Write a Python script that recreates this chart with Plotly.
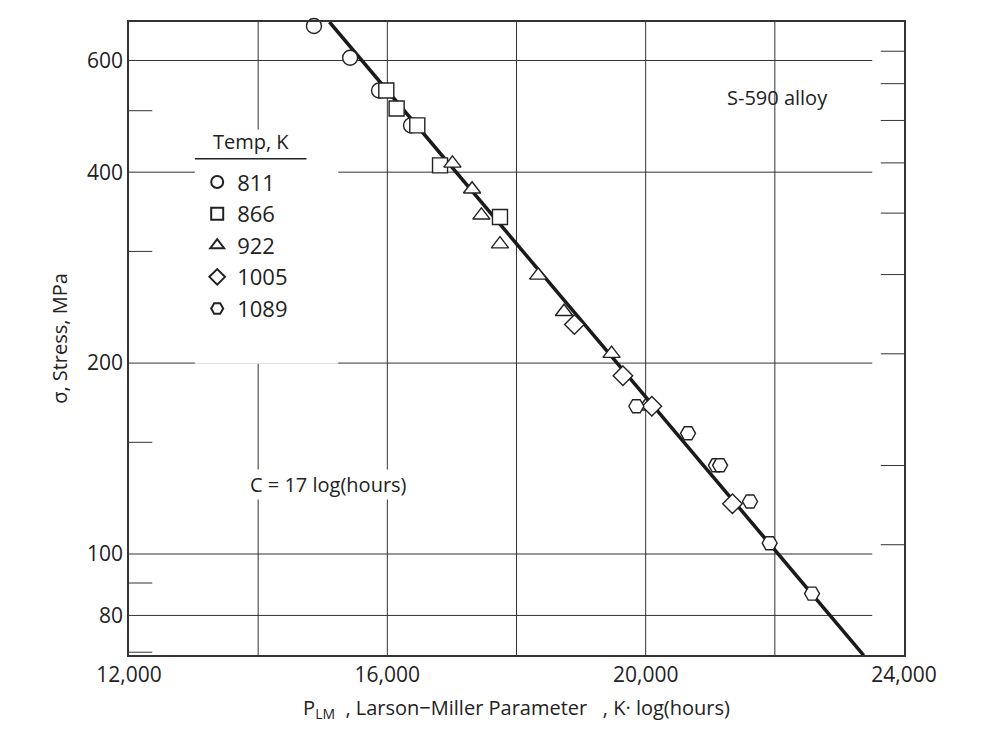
import plotly.graph_objects as go
import math

# Data
x811 = [14864, 15424, 15872, 16368]
y811 = [680, 606, 538, 474]
x866 = [15984, 16144, 16464, 16816, 17744]
y866 = [538, 504, 474, 410, 340]
x922 = [17008, 17312, 17456, 17744, 18336, 18736, 19472, 20000]
y922 = [413, 376, 342, 308, 275, 241, 207, 171]
x1005 = [18896, 19648, 20096, 21344]
y1005 = [230, 191, 171, 120]
x1089 = [19856, 20656, 21088, 21152, 21616, 21920, 22576, 23040]
y1089 = [171, 155, 138, 138, 121, 104, 86.6, 69.2]
fit_x = [15104, 23376]
fit_y = [690, 69.2]
xticks = [12000, 16000, 20000, 24000]
xticklabels = ["12,000", "16,000", "20,000", "24,000"]
yticks = [80, 100, 200, 400, 600]
yminor = [70, 90, 150, 300, 500]
ksi_ticks = [15, 20, 30, 40, 50, 60, 70, 80, 90]
xgrid = [14000, 16000, 18000, 20000, 22000]
ygrid = [80, 100, 200, 400, 600]

FONT = "Open Sans"
fig = go.Figure()
fig.add_trace(go.Scatter(x=fit_x, y=fit_y, mode="lines", line=dict(color="#1a1a1a", width=3.5),
                         showlegend=False, hoverinfo="skip"))
series = [("811", x811, y811, "circle"), ("866", x866, y866, "square"),
          ("922", x922, y922, "triangle-up"), ("1005", x1005, y1005, "diamond"),
          ("1089", x1089, y1089, "hexagon2")]
for name, xs, ys, sym in series:
    fig.add_trace(go.Scatter(x=xs, y=ys, mode="markers", name=name, cliponaxis=False,
                             marker=dict(symbol=sym, size=15, color="white",
                                         line=dict(width=1.4, color="#222"))))

shapes = []
for gx in xgrid:
    shapes.append(dict(type="line", xref="x", yref="paper", x0=gx, x1=gx, y0=0, y1=1,
                       line=dict(color="#333", width=1), layer="below"))
for gy in ygrid:
    shapes.append(dict(type="line", xref="paper", yref="y", x0=0, x1=0.959, y0=gy, y1=gy,
                       line=dict(color="#333", width=1), layer="below"))
shapes.append(dict(type="rect", xref="paper", yref="paper", x0=0.085, x1=0.27, y0=0.46, y1=0.83,
                   fillcolor="white", line=dict(width=0), layer="below"))
shapes.append(dict(type="line", xref="paper", yref="paper", x0=0.085, x1=0.229, y0=0.784, y1=0.784,
                   line=dict(color="#222", width=1.5)))
for t in yminor:
    shapes.append(dict(type="line", xref="paper", yref="y", x0=0, x1=0.03, y0=t, y1=t,
                       line=dict(color="#333", width=1)))
for k in ksi_ticks:
    shapes.append(dict(type="line", xref="paper", yref="y", x0=0.97, x1=1, y0=k*6.894757, y1=k*6.894757,
                       line=dict(color="#333", width=1)))

fig.update_layout(
    width=1008, height=741, margin=dict(l=121, r=112, t=14, b=94),
    plot_bgcolor="white", paper_bgcolor="white",
    font=dict(family=FONT, size=20, color="#222"),
    shapes=shapes,
    xaxis=dict(range=[12000, 24000], tickvals=xticks, ticktext=xticklabels, showgrid=False,
               showline=True, linecolor="#333", linewidth=1.5, mirror=True, ticks="",
               tickfont=dict(size=21),
               title=dict(text="P<sub>LM</sub>  , Larson\u2212Miller Parameter   , K\u00b7 log(hours)",
                          font=dict(size=20), standoff=14)),
    yaxis=dict(type="log", range=[math.log10(69.3), math.log10(690)], tickvals=yticks,
               ticktext=[str(v) for v in yticks], showgrid=False, showline=True, linecolor="#333",
               linewidth=1.5, mirror=True, ticks="", tickfont=dict(size=21),
               title=dict(text="\u03c3, Stress, MPa", font=dict(size=20), standoff=14)),
    legend=dict(x=0.088, y=0.78, xanchor="left", yanchor="top", bgcolor="rgba(0,0,0,0)",
                font=dict(size=22), itemsizing="constant", tracegroupgap=0, itemwidth=30),
    annotations=[
        dict(text="Temp, K", xref="paper", yref="paper", x=0.157, y=0.786, xanchor="center",
             yanchor="bottom", showarrow=False, font=dict(size=20)),
        dict(text="S-590 alloy", xref="paper", yref="paper", x=0.905, y=0.905, xanchor="right",
             showarrow=False, font=dict(size=20)),
        dict(text="C = 17 log(hours)", xref="paper", yref="paper", x=0.258, y=0.245,
             xanchor="center", showarrow=False, font=dict(size=20), bgcolor="white"),
    ],
)
fig.write_html("out.html")
